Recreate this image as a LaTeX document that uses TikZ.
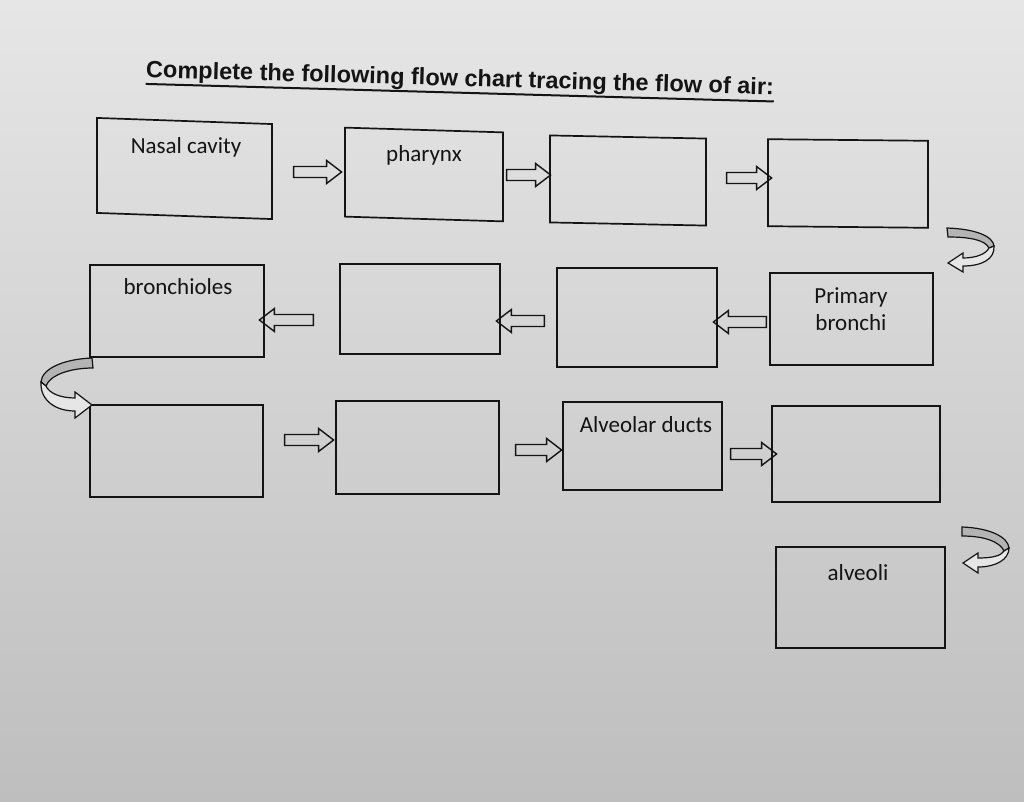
\documentclass[tikz,border=0pt]{standalone}
\usepackage{fontspec}
\setmainfont{Carlito}
\newfontfamily\titlefont{Liberation Sans}
\usetikzlibrary{shapes.arrows}
\definecolor{ink}{HTML}{141414}
\definecolor{paper}{HTML}{E6E6E6}
\definecolor{paperm}{HTML}{DCDCDC}
\definecolor{paperb}{HTML}{BEBEBE}
\definecolor{band}{HTML}{B4B4B4}
\begin{document}
\begin{tikzpicture}[x=1pt,y=-1pt,
  box/.style={draw=ink, line width=1.7pt, rectangle, inner sep=0pt},
  lbl/.style={font=\fontsize{23}{27}\selectfont, text=ink, align=center, inner sep=0pt},
  blk/.style={single arrow, draw=ink, line width=1.4pt, fill=none,
     inner xsep=0pt, inner ysep=4.8pt, single arrow head extend=6pt,
     single arrow tip angle=75},
  rgt/.style={blk, minimum height=#1},
  lft/.style={blk, minimum height=#1, shape border rotate=180},
  ribbonback/.style={draw=ink, line width=1.2pt, fill=band},
  ribbonfront/.style={draw=ink, line width=1.2pt, fill=paper}
]
\shade[top color=paper, middle color=paperm, bottom color=paperb] (0,0) rectangle (1024,802);
\useasboundingbox (0,0) rectangle (1024,802);

% title
\node[font=\titlefont\bfseries\fontsize{23.5}{27}\selectfont, text=ink, rotate=-1.6, inner sep=0pt] (title) at (460,80)
  {Complete the following flow chart tracing the flow of air:};
\draw[ink, line width=2pt] ([yshift=-1.5pt]title.south west) -- ([yshift=-1.5pt]title.south east);

% row 1
\node[box, minimum width=175, minimum height=95, yslant=-0.035] (b1) at (184.5,168.5) {};
\node[box, minimum width=158, minimum height=89, yslant=-0.03] (b2) at (424,174.5) {};
\node[box, minimum width=156, minimum height=87, yslant=-0.02] (b3) at (628,180.5) {};
\node[box, minimum width=160, minimum height=87, yslant=-0.01] (b4) at (848,183.5) {};
\node[lbl] (t1) at (186,147) {Nasal cavity};
\node[lbl] (t2) at (424,155) {pharynx};
\node[rgt=48] (a1) at (314,172) {};
\node[rgt=44] (a2) at (525,175) {};
\node[rgt=45] (a3) at (745.5,178) {};

% row 2
\node[box, minimum width=174, minimum height=92] (c1) at (177,311) {};
\node[box, minimum width=160, minimum height=90] (c2) at (420,309) {};
\node[box, minimum width=160, minimum height=99] (c3) at (637,317.5) {};
\node[box, minimum width=163, minimum height=92] (c4) at (851.5,319) {};
\node[lbl] (t3) at (178,287) {bronchioles};
\node[lbl, font=\fontsize{23}{27}\selectfont] (t4) at (851,309) {Primary\\bronchi};
\node[lft=54] (d1) at (290,320) {};
\node[lft=48] (d2) at (524,321) {};
\node[lft=53] (d3) at (743.5,322) {};

% row 3
\node[box, minimum width=173, minimum height=92] (e1) at (176.5,451) {};
\node[box, minimum width=163, minimum height=93] (e2) at (417.5,447.5) {};
\node[box, minimum width=159, minimum height=88] (e3) at (642.5,446) {};
\node[box, minimum width=168, minimum height=96] (e4) at (856,454) {};
\node[lbl] (t5) at (646,425) {Alveolar ducts};
\node[rgt=49] (f1) at (305.5,440) {};
\node[rgt=46] (f2) at (535,450) {};
\node[rgt=46] (f3) at (750,454) {};

% row 4
\node[box, minimum width=169, minimum height=101] (g1) at (860.5,597.5) {};
\node[lbl] (t6) at (858,573) {alveoli};

% curved arrow: row 1 -> row 2 (right side)
\draw[ribbonback] (947,228) .. controls (975,229) and (993,236) .. (994,246)
  -- (989,248) .. controls (985,240) and (970,237) .. (948,237) -- cycle;
\draw[ribbonfront] (994,246) .. controls (995,259) and (982,266) .. (963,266)
  -- (963,272) -- (948,263) -- (963,253) -- (963,258)
  .. controls (976,258) and (986,254) .. (989,248) -- cycle;

% curved arrow: row 2 -> row 3 (left side)
\draw[ribbonback] (92,358) .. controls (65,359) and (42,368) .. (41,382)
  -- (46,386) .. controls (50,375) and (70,368) .. (93,368) -- cycle;
\draw[ribbonfront] (41,382) .. controls (40,400) and (55,411) .. (75,411)
  -- (75,418) -- (92,405) -- (75,392) -- (75,398)
  .. controls (60,398) and (49,393) .. (46,386) -- cycle;

% curved arrow: row 3 -> row 4 (right side)
\draw[ribbonback] (962,527) .. controls (990,528) and (1008,537) .. (1009,548)
  -- (1004,551) .. controls (1000,542) and (985,536) .. (962,536) -- cycle;
\draw[ribbonfront] (1009,548) .. controls (1009,560) and (995,567) .. (978,567)
  -- (978,573) -- (963,563) -- (978,553) -- (978,558)
  .. controls (992,558) and (1001,556) .. (1004,551) -- cycle;
\end{tikzpicture}
\end{document}
